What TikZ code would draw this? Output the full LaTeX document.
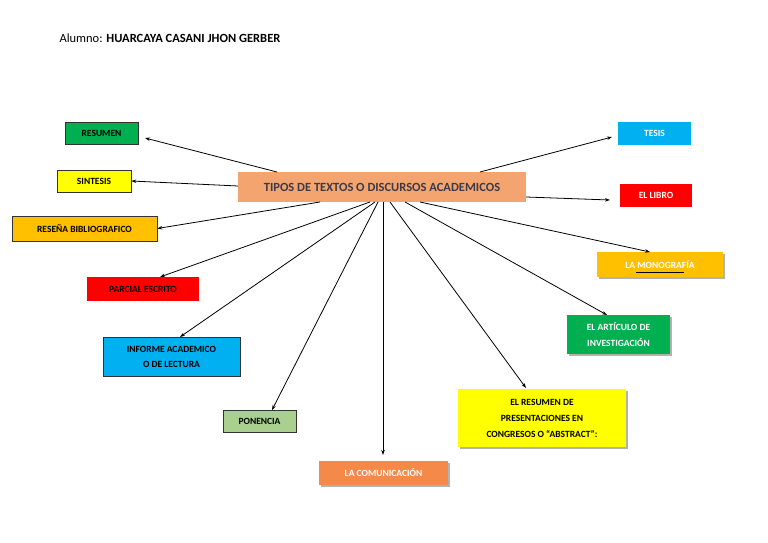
\documentclass[tikz,border=0pt]{standalone}
\usepackage{fontspec}
\setmainfont{Carlito}
\usetikzlibrary{arrows.meta}
\definecolor{cgreen}{HTML}{00B050}
\definecolor{cyel}{HTML}{FFFF00}
\definecolor{corg}{HTML}{FFC000}
\definecolor{cred}{HTML}{FF0000}
\definecolor{cblue}{HTML}{00B0F0}
\definecolor{clg}{HTML}{A9D08E}
\definecolor{cmain}{HTML}{F4A46E}
\definecolor{ccom}{HTML}{F4894A}
\definecolor{ctxt}{HTML}{3A3A4A}
\begin{document}
\begin{tikzpicture}[x=1pt,y=-1pt,
  bx/.style={draw=black!80,line width=0.6pt,font=\bfseries\fontsize{9.5}{11}\selectfont,inner sep=0pt,align=center},
  sh/.style={draw=none,font=\bfseries\fontsize{9.5}{11}\selectfont,text=white,inner sep=0pt,align=center,
     preaction={fill=black!30,transform canvas={shift={(1.5pt,-1.5pt)}}}},
  ar/.style={-{Stealth[length=5pt,width=3.5pt]},line width=0.8pt,black}]
\useasboundingbox (0,0) rectangle (768,543);
\fill[white] (0,0) rectangle (768,543);
\node[anchor=west,font=\fontsize{12.5}{14}\selectfont] (alum) at (56,38) {Alumno: \textbf{HUARCAYA CASANI JHON GERBER}};
\node[fill=cmain,minimum width=288pt,minimum height=30pt,inner sep=0pt,text=ctxt,font=\bfseries\fontsize{12.5}{14}\selectfont] (main) at (382,187) {TIPOS DE TEXTOS O DISCURSOS ACADEMICOS};
\node[bx,fill=cgreen,minimum width=73pt,minimum height=22pt] (res) at (101.5,133) {RESUMEN};
\node[bx,fill=cyel,minimum width=74pt,minimum height=22pt] (sin) at (94,181) {SINTESIS};
\node[bx,fill=corg,minimum width=145pt,minimum height=25pt] (rese) at (84.5,228.5) {RESEÑA BIBLIOGRAFICO};
\node[fill=cred,minimum width=112pt,minimum height=24pt,inner sep=0pt,font=\bfseries\fontsize{9.5}{11}\selectfont] (par) at (143,289) {PARCIAL ESCRITO};
\node[bx,fill=cblue,minimum width=137pt,minimum height=39pt,font=\bfseries\fontsize{9.5}{15}\selectfont] (inf) at (171.5,356.5) {INFORME ACADEMICO\\O DE LECTURA};
\node[bx,fill=clg,minimum width=73pt,minimum height=22pt] (pon) at (259.5,421) {PONENCIA};
\node[sh,fill=ccom,minimum width=129pt,minimum height=24pt] (com) at (383.5,473) {LA COMUNICACIÓN};
\node[sh,fill=cyel,text=black,minimum width=168pt,minimum height=58pt,font=\bfseries\fontsize{9.5}{16}\selectfont] (rp) at (542,418) {EL RESUMEN DE\\PRESENTACIONES EN\\CONGRESOS O “ABSTRACT”:};
\node[sh,fill=cgreen,minimum width=103pt,minimum height=39pt,font=\bfseries\fontsize{9.5}{16}\selectfont] (art) at (618.5,334.5) {EL ARTÍCULO DE\\INVESTIGACIÓN};
\node[sh,fill=corg,minimum width=126pt,minimum height=25pt] (mon) at (660,264.5) {LA MONOGRAFÍA};
\draw[black,line width=0.7pt] (636,272.5) -- (684,272.5);
\node[fill=cred,text=white,minimum width=72pt,minimum height=23pt,inner sep=0pt,font=\bfseries\fontsize{9.5}{11}\selectfont] (lib) at (656,195.5) {EL LIBRO};
\node[fill=cblue,text=white,minimum width=73pt,minimum height=23pt,inner sep=0pt,font=\bfseries\fontsize{9.5}{11}\selectfont] (tes) at (654.5,133.5) {TESIS};
\coordinate (cres) at (277,172);
\coordinate (csin) at (238,186);
\coordinate (crese) at (320,202);
\coordinate (cpar) at (370,202);
\coordinate (cinf) at (375,202);
\coordinate (cpon) at (378,202);
\coordinate (ccomm) at (383,202);
\coordinate (crp) at (390,202);
\coordinate (cart) at (405,202);
\coordinate (cmon) at (420,202);
\coordinate (clib) at (526,197);
\coordinate (ctes) at (480,172);
\draw[ar] (cres) -- (145,138);
\draw[ar] (csin) -- (sin.east);
\draw[ar] (crese) -- (rese.east);
\draw[ar] (cpar) -- (160,277);
\draw[ar] (cinf) -- (180,337);
\draw[ar] (cpon) -- (272,410);
\draw[ar] (ccomm) -- (383,455);
\draw[ar] (crp) -- (526,388);
\draw[ar] (cart) -- (607,315);
\draw[ar] (cmon) -- (650,252);
\draw[ar] (clib) -- (610,200);
\draw[ar] (ctes) -- (612,137);
\end{tikzpicture}
\end{document}
